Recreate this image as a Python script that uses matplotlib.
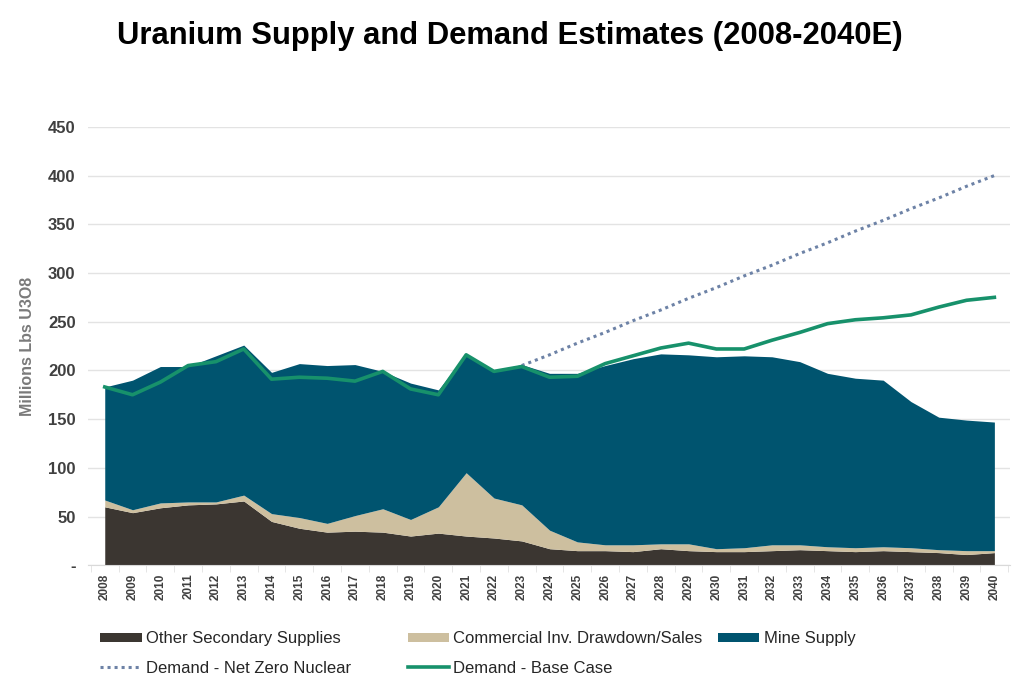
import numpy as np
import matplotlib.pyplot as plt

years = list(range(2008, 2041))

other_secondary = [60, 54, 59, 62, 63, 66, 45, 38, 34, 35, 34, 30, 33, 30, 28, 25,
                   17, 15, 15, 14, 17, 15, 14, 14, 15, 16, 15, 14, 15, 14, 13, 11, 13]
commercial_inv = [7, 3, 5, 3, 2, 6, 8, 11, 9, 16, 24, 17, 27, 65, 41, 37,
                  19, 9, 6, 7, 5, 7, 3, 4, 6, 5, 4, 4, 4, 4, 3, 4, 2]
mine_supply = [116, 133, 140, 139, 150, 154, 145, 158, 162, 155, 141, 140, 120, 122, 131, 144,
               161, 173, 184, 191, 195, 194, 197, 197, 193, 188, 178, 174, 171, 150, 136, 134, 132]

demand_base = [183, 175, 188, 205, 209, 222, 191, 193, 192, 189, 199, 181, 175, 216, 199, 204,
               193, 194, 207, 215, 223, 228, 222, 222, 231, 239, 248, 252, 254, 257, 265, 272, 275]
nz_years = list(range(2023, 2041))
demand_net_zero = [205, 216, 228, 239, 251, 262, 274, 285, 297, 308, 320, 331, 343, 354, 366, 377, 389, 400]

plt.rcParams['font.family'] = ['Liberation Sans', 'DejaVu Sans']

fig = plt.figure(figsize=(10.24, 6.97), dpi=100)
ax = fig.add_axes([0.086, 0.189, 0.9, 0.629])

x = np.array(years)
s1 = np.array(other_secondary)
s2 = s1 + np.array(commercial_inv)
s3 = s2 + np.array(mine_supply)

h1 = ax.fill_between(x, 0, s1, color='#3b3631', lw=0, label='Other Secondary Supplies')
h2 = ax.fill_between(x, s1, s2, color='#cdbf9f', lw=0, label='Commercial Inv. Drawdown/Sales')
h3 = ax.fill_between(x, s2, s3, color='#00546f', lw=0, label='Mine Supply')
h4, = ax.plot(nz_years, demand_net_zero, ls=(0, (1, 1.3)), color='#6d82a6', lw=2.2,
              label='Demand - Net Zero Nuclear')
h5, = ax.plot(years, demand_base, color='#17916b', lw=2.6, label='Demand - Base Case')

ax.set_xlim(2007.4, 2040.55)
ax.set_ylim(0, 450)
ax.set_yticks(range(0, 451, 50))
ax.set_yticklabels(['-'] + [str(v) for v in range(50, 451, 50)])
ax.set_xticks(years)
ax.set_xticklabels([str(y) for y in years], rotation=90)
ax.set_xticks(np.arange(2007.5, 2041, 1), minor=True)
ax.grid(axis='y', color='#e3e3e3', lw=1)
ax.set_axisbelow(True)
for side in ['top', 'right', 'left']:
    ax.spines[side].set_visible(False)
ax.spines['bottom'].set_color('#d9d9d9')
ax.tick_params(axis='y', length=0, pad=9, labelsize=12, labelcolor='#404040')
ax.tick_params(axis='x', which='major', length=0, labelsize=8.5, labelcolor='#404040', pad=6)
ax.tick_params(axis='x', which='minor', length=5, color='#e0e0e0')
for t in ax.get_yticklabels() + ax.get_xticklabels():
    t.set_fontweight('bold')
ax.set_ylabel('Millions Lbs U3O8', fontsize=11.5, color='#7a7a7a', fontweight='bold', labelpad=9)

fig.text(0.498, 0.948, 'Uranium Supply and Demand Estimates (2008-2040E)', ha='center', va='center',
         fontsize=22.3, fontweight='bold')

# three legend columns placed separately (uneven gaps in the original)
cols = [([h1, h4], 0.0977), ([h2, h5], 0.398), ([h3], 0.701)]
for handles, xpos in cols:
    lg = fig.legend(handles, [h.get_label() for h in handles], loc='upper left',
                    bbox_to_anchor=(xpos, 0.094), frameon=False, fontsize=12,
                    handlelength=2.5, handleheight=0.5, handletextpad=0.25,
                    labelspacing=0.85, borderpad=0, borderaxespad=0)
    for t in lg.get_texts():
        t.set_color('#262626')

fig.savefig('out.png', dpi=100)
